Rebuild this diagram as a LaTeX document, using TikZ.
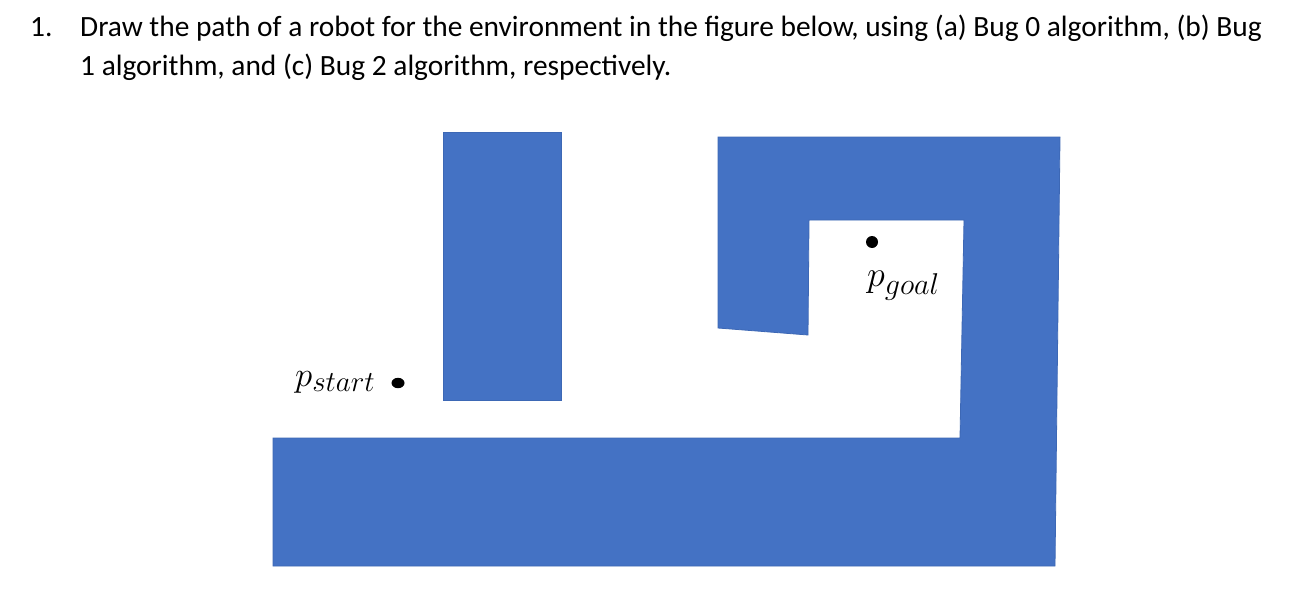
\documentclass[tikz,border=0pt]{standalone}
\usepackage{fontspec}
\setmainfont{Carlito}
\definecolor{obstblue}{HTML}{4472C4}
\definecolor{obstedge}{HTML}{3D68B5}
\begin{document}
\begin{tikzpicture}[x=1pt,y=-1pt,
  obst/.style={fill=obstblue,draw=obstedge,line width=0.8pt},
  qtext/.style={anchor=base west,inner sep=0pt,font=\fontsize{29.4}{35}\selectfont},
  ptlabel/.style={anchor=base west,inner sep=0pt,font=\fontsize{24.88}{30}\selectfont},
  robotdot/.style={fill=black}]
\useasboundingbox (0,0) rectangle (1314,594);
\fill[white] (0,0) rectangle (1314,594);
% question text
\node[qtext] (num) at (30,37) {1.};
\node[qtext] (line1) at (80,37) {Draw the path of a robot for the environment in the figure below, using (a) Bug 0 algorithm, (b) Bug};
\node[qtext] (line2) at (80,75) {1 algorithm, and (c) Bug 2 algorithm, respectively.};
% obstacles
\path[obst] (443,132) rectangle (561,400);
\path[obst] (718,137) -- (1060,137) -- (1055,566) -- (273,566) -- (273,438)
  -- (960,438) -- (964,220) -- (809,220) -- (808,335) -- (718,328) -- cycle;
% start and goal
\fill[robotdot] (398,383) ellipse [x radius=6.5,y radius=5.2];
\coordinate (start) at (398,383);
\fill[robotdot] (872,242) circle [radius=6];
\coordinate (goal) at (872,242);
\node[ptlabel] (startlabel) at (295,386) {\scalebox{1.4}{$p_{start}$}};
\node[ptlabel] (goallabel) at (867,286) {\scalebox{1.45}{$p_{goal}$}};
\end{tikzpicture}
\end{document}
